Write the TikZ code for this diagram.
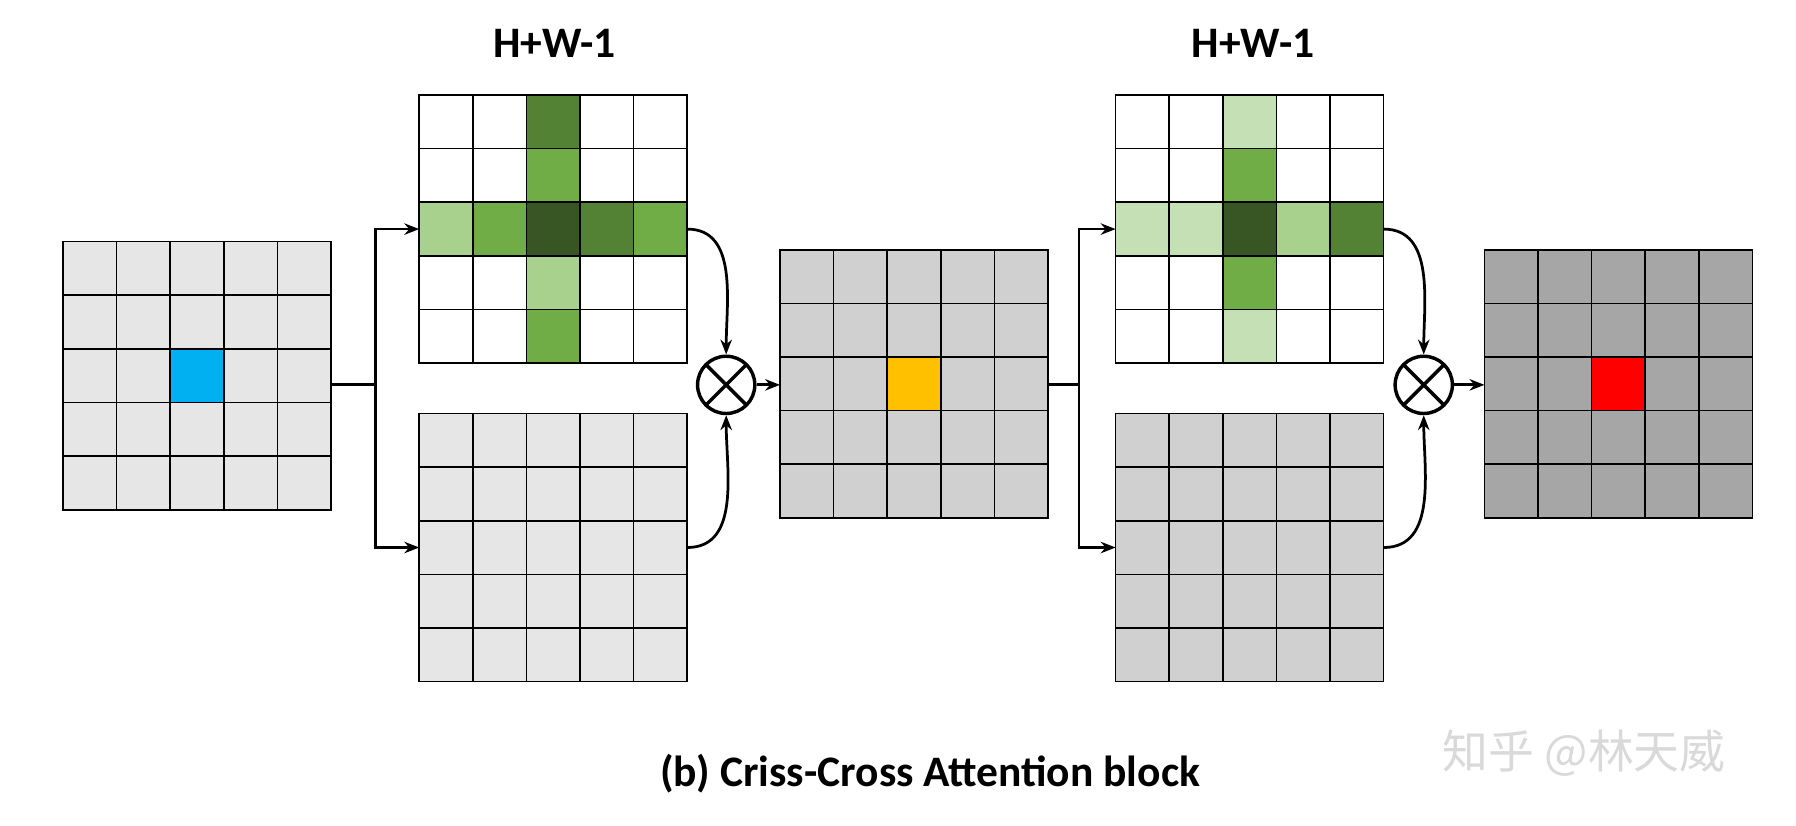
\documentclass[tikz,border=0pt]{standalone}
\usepackage{fontspec}
\setmainfont{Carlito}
\newfontfamily\cjk{Noto Sans CJK SC}
\usetikzlibrary{arrows.meta}
\definecolor{gA}{HTML}{E6E6E6}
\definecolor{gB}{HTML}{D0D0D0}
\definecolor{gC}{HTML}{A6A6A6}
\definecolor{cblue}{HTML}{00B0F0}
\definecolor{corange}{HTML}{FFC000}
\definecolor{gr1}{HTML}{C5E0B4}
\definecolor{gr2}{HTML}{A9D18E}
\definecolor{gr3}{HTML}{70AD47}
\definecolor{gr4}{HTML}{548235}
\definecolor{gr5}{HTML}{375623}
% one grid of 5x5 cells, centre at #1
\newcommand{\featmap}[3]{%
  \node[grid box,fill=#3] (#2) at (#1) {};
  \foreach \i in {1,...,4} {
    \draw[cell line] ([xshift=\i*46.8]#2.north west) -- ([xshift=\i*46.8]#2.south west);
    \draw[cell line] ([yshift=-\i*46.8]#2.north west) -- ([yshift=-\i*46.8]#2.north east);
  }}
% colour cell (col,row) of grid #1
\newcommand{\paintcell}[4]{%
  \fill[#4] ([xshift=#2*46.8,yshift=-#3*46.8]#1.north west) rectangle ++(46.8,46.8);
  \draw[cell line] ([xshift=#2*46.8,yshift=-#3*46.8]#1.north west) rectangle ++(46.8,46.8);}
\begin{document}
\begin{tikzpicture}[x=1pt,y=-1pt,
    cell line/.style={line width=1.4pt},
    grid box/.style={draw,line width=1.4pt,anchor=center,minimum size=234pt,inner sep=0pt,outer sep=0pt},
    otimes/.style={draw,circle,line width=3pt,minimum size=50pt,inner sep=0pt,
      path picture={\draw[line width=3pt] (path picture bounding box.north west)--(path picture bounding box.south east)
        (path picture bounding box.north east)--(path picture bounding box.south west);}},
    link/.style={line width=2.4pt,-{Stealth[length=13pt,width=10pt]}},
    title/.style={font=\bfseries\fontsize{38}{44}\selectfont}
  ]
  \useasboundingbox (0,0) rectangle (1568,721);
  % input
  \featmap{172,328}{inp}{gA}
  \paintcell{inp}{2}{2}{cblue}
  % first criss-cross
  \featmap{483,200}{attA}{white}
  \paintcell{attA}{2}{0}{gr4}
  \paintcell{attA}{2}{1}{gr3}
  \paintcell{attA}{0}{2}{gr2}
  \paintcell{attA}{1}{2}{gr3}
  \paintcell{attA}{2}{2}{gr5}
  \paintcell{attA}{3}{2}{gr4}
  \paintcell{attA}{4}{2}{gr3}
  \paintcell{attA}{2}{3}{gr2}
  \paintcell{attA}{2}{4}{gr3}
  \featmap{483,478}{valA}{gA}
  \node[otimes] (mulA) at (634,336) {};
  \featmap{798,335}{midA}{gB}
  \paintcell{midA}{2}{2}{corange}
  % second criss-cross
  \featmap{1091,200}{attB}{white}
  \paintcell{attB}{2}{0}{gr1}
  \paintcell{attB}{2}{1}{gr3}
  \paintcell{attB}{0}{2}{gr1}
  \paintcell{attB}{1}{2}{gr1}
  \paintcell{attB}{2}{2}{gr5}
  \paintcell{attB}{3}{2}{gr2}
  \paintcell{attB}{4}{2}{gr4}
  \paintcell{attB}{2}{3}{gr3}
  \paintcell{attB}{2}{4}{gr1}
  \featmap{1091,478}{valB}{gB}
  \node[otimes] (mulB) at (1243,336) {};
  \featmap{1413,335}{outp}{gC}
  \paintcell{outp}{2}{2}{red}
  % texts
  \node[title] (hwA) at (484,38) {H+W-1};
  \node[title] (hwB) at (1094,38) {H+W-1};
  \node[title] (cap) at (812,675) {(b) Criss-Cross Attention block};
  \node[text=black!15,font=\cjk\fontsize{40}{46}\selectfont] (mark) at (1383,658) {知乎 @林天威};
  % connectors
  \coordinate (splitA) at (328,336);
  \coordinate (splitB) at (942,336);
  \draw[line width=2.4pt] (289,336) -- (splitA);
  \draw[link] (splitA) |- (attA.west);
  \draw[link] (splitA) |- (valA.west);
  \draw[link] (attA.east) to[out=0,in=90] (mulA.north);
  \draw[link] (valA.east) to[out=0,in=-90] (mulA.south);
  \draw[link] (mulA.east) -- (mulA.east -| midA.west);
  \draw[line width=2.4pt] (midA.east |- splitB) -- (splitB);
  \draw[link] (splitB) |- (attB.west);
  \draw[link] (splitB) |- (valB.west);
  \draw[link] (attB.east) to[out=0,in=90] (mulB.north);
  \draw[link] (valB.east) to[out=0,in=-90] (mulB.south);
  \draw[link] (mulB.east) -- (mulB.east -| outp.west);
\end{tikzpicture}
\end{document}
